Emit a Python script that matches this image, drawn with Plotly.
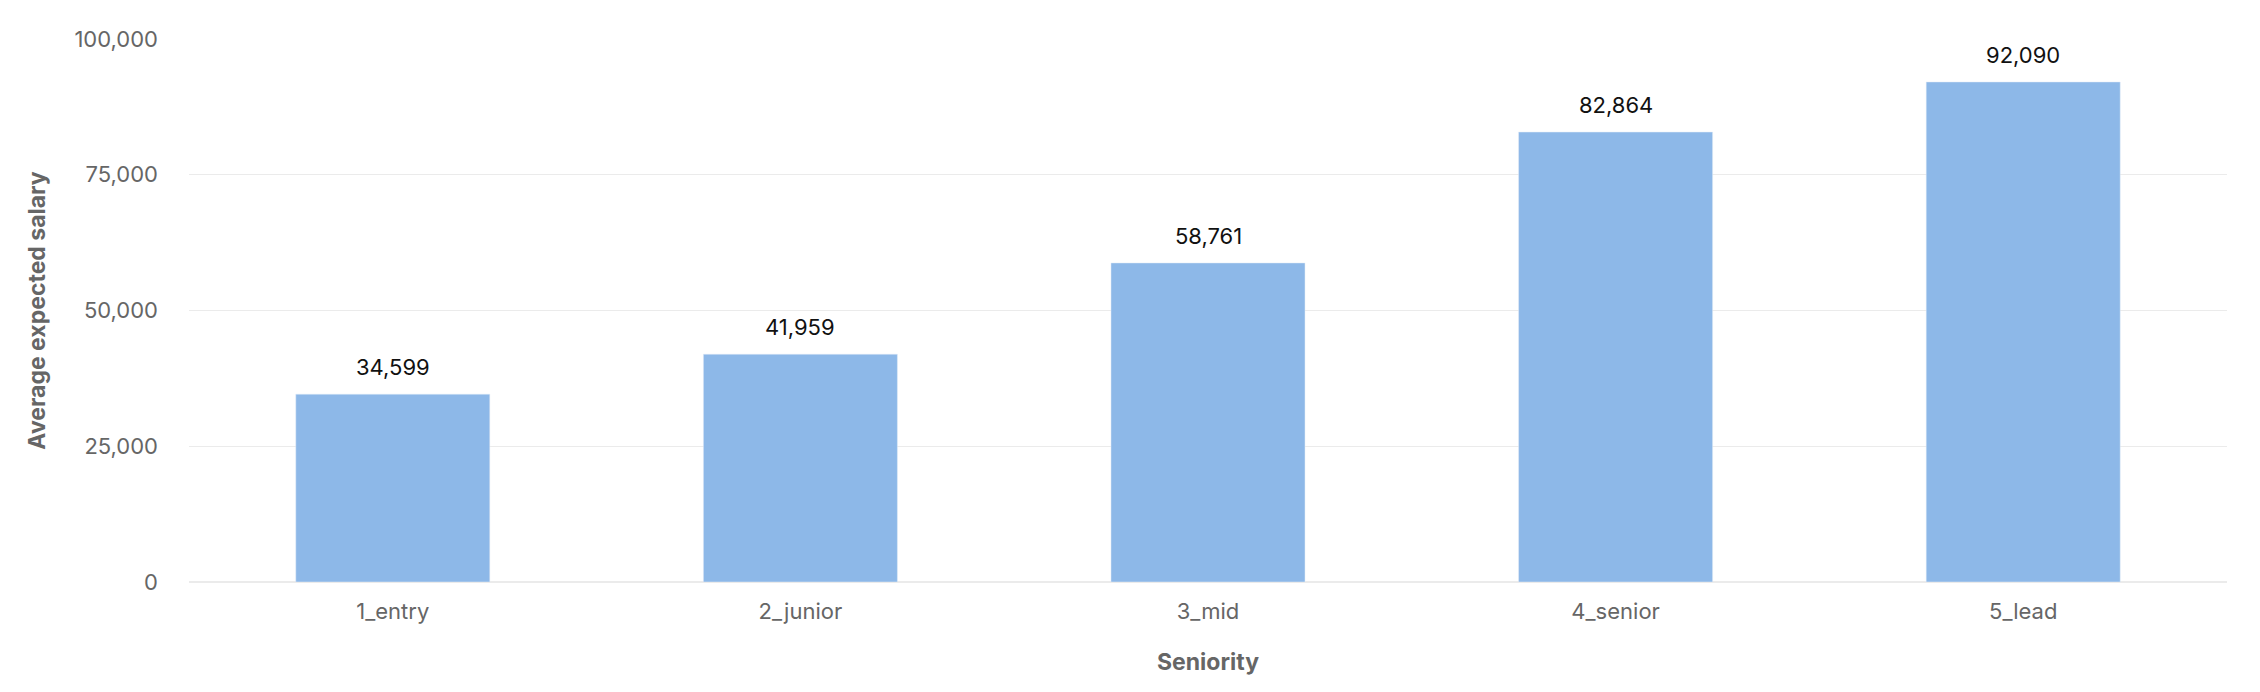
import plotly.graph_objects as go

categories = ["1_entry", "2_junior", "3_mid", "4_senior", "5_lead"]
salaries = [34599, 41959, 58761, 82864, 92090]

fig = go.Figure(go.Bar(
    x=categories, y=salaries,
    marker_color="#8DB8E8",
))
for c, v in zip(categories, salaries):
    fig.add_annotation(x=c, y=v, text=f"{v:,}", showarrow=False, yanchor="bottom",
                       yshift=12, font=dict(color="#111111", size=22, family="Inter"))
fig.update_layout(
    width=2260, height=692,
    margin=dict(l=181, r=41, t=31, b=118),
    paper_bgcolor="white", plot_bgcolor="white",
    bargap=0.524,
    font=dict(family="Inter", size=22, color="#666666"),
    showlegend=False,
)
fig.update_xaxes(title=dict(text="<b>Seniority</b>", font=dict(size=23, color="#666666"), standoff=30),
                 showline=False, ticks="", tickfont=dict(size=22, color="#666666"), ticklabelstandoff=14)
fig.update_yaxes(title=dict(text="<b>Average expected salary</b>", font=dict(size=23, color="#666666"), standoff=22),
                 range=[0, 100000], tickvals=[0, 25000, 50000, 75000, 100000], tickformat=",",
                 gridcolor="#EBEBEB", zeroline=True, zerolinecolor="#EBEBEB",
                 tickfont=dict(size=22, color="#666666"), ticklabelstandoff=30)
fig.write_html("out.html")
